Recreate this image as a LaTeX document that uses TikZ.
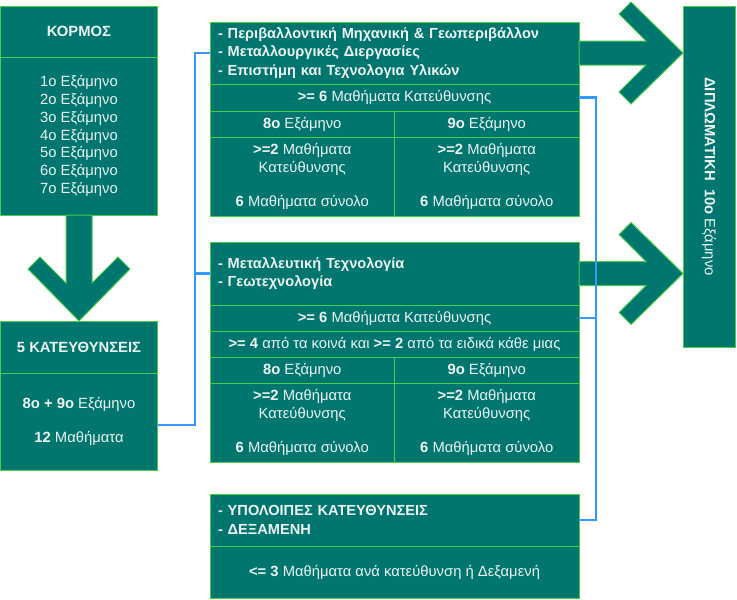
\documentclass[tikz,border=0pt]{standalone}
\usepackage{fontspec}
\setmainfont{Liberation Sans}
\usetikzlibrary{positioning}

\definecolor{tealfill}{RGB}{0,118,111}
\definecolor{rim}{RGB}{72,205,72}
\definecolor{ink}{RGB}{236,243,241}
\definecolor{linkblue}{RGB}{51,153,255}
\newcommand{\cellfont}{\fontsize{14.8pt}{17.8pt}\selectfont}
\newcommand{\listfont}{\fontsize{14.6pt}{18.5pt}\selectfont}

\tikzset{
  cell/.style={draw=rim, fill=tealfill, text=ink, font=\cellfont, align=center,
    inner sep=0pt, outer sep=0pt, line width=1pt, minimum height=#1},
  full/.style={minimum width=369pt},
  half/.style={minimum width=184.5pt},
  side/.style={minimum width=157pt},
  listcell/.style={align=left, font=\listfont, text width=353pt, inner xsep=8pt},
  fat/.style={draw=rim, fill=tealfill, line width=1pt},
  link/.style={draw=linkblue, line width=2.5pt}
}

\begin{document}
\begin{tikzpicture}[x=1pt,y=-1pt]
    \useasboundingbox (0,0) rectangle (737,600);
    % left column
    \node[cell=51pt, side, anchor=north west] (kormosHead) at (0.5,6) {\textbf{ΚΟΡΜΟΣ}};
    \node[cell=158pt, side, below=0pt of kormosHead] (kormosBody)
        {1ο Εξάμηνο\\2ο Εξάμηνο\\3ο Εξάμηνο\\4ο Εξάμηνο\\5ο Εξάμηνο\\6ο Εξάμηνο\\7ο Εξάμηνο};
    \node[cell=52pt, side, anchor=north west] (kateyHead) at (0.5,321) {\textbf{5 ΚΑΤΕΥΘΥΝΣΕΙΣ}};
    \node[cell=97pt, side, below=0pt of kateyHead] (kateyBody)
        {\textbf{8ο + 9ο} Εξάμηνο\\[17pt]\textbf{12} Μαθήματα};
    % directions
    \node[cell=62pt, full, listcell, anchor=north west] (dirAlist) at (210,22)
        {\textbf{- Περιβαλλοντική Μηχανική \& Γεωπεριβάλλον}\\
         \textbf{- Μεταλλουργικές Διεργασίες}\\
         \textbf{- Επιστήμη και Τεχνολογια Υλικών}};
    \node[cell=27pt, full, below=0pt of dirAlist] (dirArule) {\textbf{>= 6} Μαθήματα Κατεύθυνσης};
    \node[cell=63pt, full, listcell, anchor=north west] (dirBlist) at (210,242)
        {\textbf{- Μεταλλευτική Τεχνολογία}\\
         \textbf{- Γεωτεχνολογία}};
    \node[cell=26pt, full, below=0pt of dirBlist] (dirBrule) {\textbf{>= 6} Μαθήματα Κατεύθυνσης};
    \node[cell=26pt, full, below=0pt of dirBrule] (dirBmix)
        {\textbf{>= 4} από τα κοινά και \textbf{>= 2} από τα ειδικά κάθε μιας};
    \foreach \grp/\prev in {A/dirArule, B/dirBmix} {
        \node[cell=26pt, half, below right=0pt of \prev.south west] (dir\grp eightH) {\textbf{8ο} Εξάμηνο};
        \node[cell=26pt, half, right=0pt of dir\grp eightH] (dir\grp nineH) {\textbf{9ο} Εξάμηνο};
        \node[cell=79pt, half, below=0pt of dir\grp eightH] (dir\grp eightB)
            {\textbf{>=2} Μαθήματα\\Κατεύθυνσης\\[17pt]\textbf{6} Μαθήματα σύνολο};
        \node[cell=79pt, half, below=0pt of dir\grp nineH] (dir\grp nineB)
            {\textbf{>=2} Μαθήματα\\Κατεύθυνσης\\[17pt]\textbf{6} Μαθήματα σύνολο};
    }
    \node[cell=52pt, full, listcell, anchor=north west] (dirClist) at (210,494)
        {\textbf{- ΥΠΟΛΟΙΠΕΣ ΚΑΤΕΥΘΥΝΣΕΙΣ}\\
         \textbf{- ΔΕΞΑΜΕΝΗ}};
    \node[cell=52pt, full, below=0pt of dirClist] (dirCrule)
        {\textbf{<= 3} Μαθήματα ανά κατεύθυνση ή Δεξαμενή};
    % thesis
    \node[cell=341pt, minimum width=52pt, anchor=north west] (thesis) at (683,6)
        {\rotatebox{-90}{\textbf{ΔΙΠΛΩΜΑΤΙΚΗ\ \ 10ο} Εξάμηνο}};
    % fat arrows
    \draw[fat] (kormosBody.south) ++(-13,0) -- ++(0,68) -- ++(-26,-26) -- ++(-12,12)
        -- (kateyHead.north) -- ++(51,-52) -- ++(-12,-12) -- ++(-26,26) -- ++(0,-68) -- cycle;
    \foreach \src in {dirAlist, dirBlist} {
        \draw[fat] (\src.east) ++(0,-12) -- ++(67,0) -- ++(-27,-27) -- ++(12,-12)
            -- (thesis.west |- \src.east) -- ++(-52,51) -- ++(-12,-12) -- ++(27,-27) -- ++(-67,0) -- cycle;
    }
    % blue links
    \coordinate (forkL) at (195,0);
    \coordinate (forkR) at (596,0);
    \draw[link] (kateyBody.east) ++(0,3.5) -| (forkL |- dirAlist.west) -- (dirAlist.west);
    \draw[link] (forkL |- dirBlist.west) -- (dirBlist.west);
    \draw[link] (dirArule.east) -| (forkR |- dirClist.east) -- (dirClist.east);
    \draw[link] (dirBrule.east) -- (forkR |- dirBrule.east);
\end{tikzpicture}
\end{document}
